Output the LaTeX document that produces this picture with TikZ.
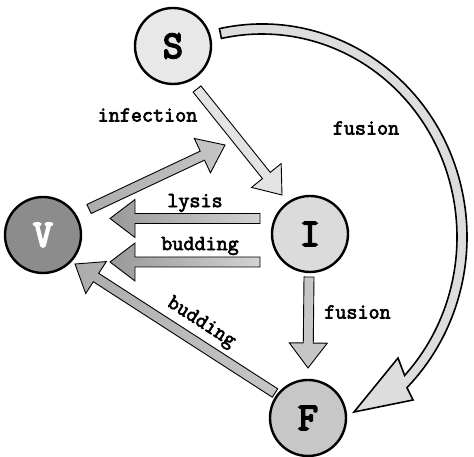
\documentclass[tikz,border=0pt]{standalone}
\usepackage{fontspec}
\setmonofont[AutoFakeBold=3]{Latin Modern Mono}
\newfontfamily\statefont[FakeBold=4.5]{Latin Modern Mono}
\usetikzlibrary{calc}

\definecolor{sfill}{gray}{0.91}
\definecolor{ifill}{gray}{0.86}
\definecolor{ffill}{gray}{0.78}
\definecolor{vfill}{gray}{0.55}

\newcommand{\arrowsw}{5pt}
\newcommand{\arrowhw}{19pt}
\newcommand{\arrowhl}{25pt}
% fat arrow from #2 to #3
\newcommand{\fatarrow}[3][]{%
  \coordinate (fa-base) at ($(#3)!\arrowhl!(#2)$);
  \draw[fat arrow,#1] ($(#2)!\arrowsw!90:(#3)$) -- ($(fa-base)!\arrowsw!-90:(#2)$)
    -- ($(fa-base)!\arrowhw!-90:(#2)$) -- (#3) -- ($(fa-base)!\arrowhw!90:(#2)$)
    -- ($(fa-base)!\arrowsw!90:(#2)$) -- ($(#2)!\arrowsw!-90:(#3)$) -- cycle;}

\tikzset{
  state/.style={circle, draw, line width=2.4pt, minimum size=76pt, inner sep=0pt,
    font=\statefont\fontsize{39}{39}\selectfont},
  fat arrow/.style={draw, line width=0.9pt, line join=miter},
  lbl/.style={font=\ttfamily\bfseries\fontsize{21.5}{22}\selectfont}
}

\begin{document}
\begin{tikzpicture}[x=1pt,y=1pt]
\useasboundingbox (0,0) rectangle (474,457);

\node[state, fill=sfill] (S) at (173,411) {S};
\node[state, fill=vfill, text=white] (V) at (43,222) {V};
\node[state, fill=ifill] (I) at (310,223) {I};
\node[state, fill=ffill] (F) at (308,39) {F};

% arrow end points
\coordinate (inf-a) at ($(S)+(24,-43)$);
\coordinate (inf-b) at ($(I)+(-28,39)$);
\coordinate (vinf-a) at ($(V)+(46,26)$);
\coordinate (vinf-b) at ($(V)+(182,90)$);
\coordinate (lys-a) at ($(I)+(-50,15.5)$);
\coordinate (lys-b) at ($(V)+(67,16.5)$);
\coordinate (bud-a) at ($(I)+(-50,-28)$);
\coordinate (bud-b) at ($(V)+(67,-27)$);
\coordinate (fbud-a) at ($(F)+(-33,25)$);
\coordinate (fbud-b) at ($(V)+(32,-29)$);
\coordinate (fus-a) at ($(I)+(-1,-43)$);
\coordinate (fus-b) at ($(F)+(0,50)$);

\fatarrow[fill=gray!22]{inf-a}{inf-b}
\fatarrow[left color=gray!65, right color=gray!45]{vinf-a}{vinf-b}
\fatarrow[left color=gray!80, right color=gray!35]{lys-a}{lys-b}
\fatarrow[left color=gray!80, right color=gray!35]{bud-a}{bud-b}
\fatarrow[left color=gray!65, right color=gray!45]{fbud-a}{fbud-b}
\fatarrow[fill=gray!45]{fus-a}{fus-b}

% big fusion arc S -> F
\coordinate (arc-c) at (262,220);
\coordinate (arc-o) at (413,57);
\coordinate (arc-i) at (398,99);
\coordinate (arc-tip) at (354,45);
\draw[fat arrow, line width=1.6pt, fill=gray!27]
  ($(arc-c)+(102:205 and 213)$) arc[start angle=102, end angle=-45, x radius=205, y radius=213]
  -- (arc-o) -- (arc-tip) -- (arc-i)
  -- ($(arc-c)+(-43:195 and 203)$) arc[start angle=-43, end angle=102, x radius=195, y radius=203]
  -- cycle;

\node[lbl] (l-inf) at (147.5,342) {infection};
\node[lbl] (l-fus1) at (366,329) {fusion};
\node[lbl] (l-lys) at (195,254) {lysis};
\node[lbl] (l-bud) at (200,211) {budding};
\node[lbl, rotate=-32.8] (l-fbud) at (201,134) {budding};
\node[lbl] (l-fus2) at (357.5,145) {fusion};
\end{tikzpicture}
\end{document}
